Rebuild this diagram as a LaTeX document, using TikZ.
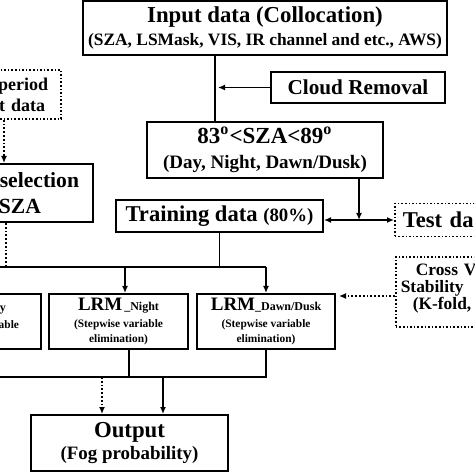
\documentclass[tikz,border=0pt]{standalone}
\usepackage{fontspec}
\setmainfont{Liberation Serif}
\usetikzlibrary{arrows.meta}

\newcommand{\fsize}[2]{\fontsize{#1}{#2}\selectfont\bfseries}
\newcommand{\lrmtext}[2]{{\fsize{9.5}{7.5}LRM}#1{\fsize{6}{7.5}\_#2}\\[1.2pt](Stepwise variable\\elimination)}

\tikzset{
  box/.style={draw, line width=1pt, inner sep=0pt, align=center},
  dotbox/.style={box, line width=0.8pt, densely dotted},
  link/.style={line width=0.9pt},
  arr/.style={link, -{Latex[length=3.5pt,width=3pt]}},
  darr/.style={link, {Latex[length=3.5pt,width=3pt]}-{Latex[length=3.5pt,width=3pt]}},
  dotarr/.style={arr, densely dotted},
}

\begin{document}
\begin{tikzpicture}[x=0.5pt, y=-0.5pt]
  \useasboundingbox (0,0) rectangle (474,474);
  \clip (0,0) rectangle (474,474);

  % boxes
  \node[box, minimum width=182pt, minimum height=27pt, font=\fsize{11.4}{11.5}] (input) at (265,28)
    {Input data (Collocation)\\{\fsize{8.7}{11.5}(SZA, LSMask, VIS, IR channel and etc., AWS)}};
  \node[box, minimum width=87pt, minimum height=15.5pt, font=\fsize{10.6}{12}] (cloud) at (358,87.5) {Cloud Removal};
  \node[box, minimum width=118pt, minimum height=28pt, font=\fsize{11.5}{12.5}] (sza) at (265,150)
    {83\textsuperscript{o}<SZA<89\textsuperscript{o}\\{\fsize{9.5}{12.5}(Day, Night, Dawn/Dusk)}};
  \node[box, minimum width=103.5pt, minimum height=16pt, font=\fsize{11.3}{13}] (train) at (219.5,216)
    {Training data {\fsize{9.4}{13}(80\%)}};
  \node[dotbox, anchor=west, minimum height=16.5pt, text width=74pt, inner xsep=4pt, align=left,
    font=\fsize{11.3}{13}] (test) at (394,220) {Test da};
  \node[dotbox, anchor=west, minimum height=35pt, text width=74pt, inner xsep=2.5pt, align=left,
    font=\fsize{8.7}{8.3}] (cross) at (395,292) {\hspace*{7.5pt}Cross V\\Stability\\\hspace*{6pt}(K-fold,\\[-3pt]\mbox{}};
  \node[dotbox, anchor=east, minimum height=24.5pt, text width=50pt, inner xsep=6.5pt, align=right,
    font=\fsize{9}{10.5}] (period) at (62,94.5) {period\\t data\hspace{1.5pt}\null};
  \node[box, anchor=east, minimum height=29pt, text width=70pt, inner xsep=7pt, align=right,
    font=\fsize{10.8}{13}] (select) at (94,193) {selection\\SZA\hspace{19pt}\null};

  \node[box, anchor=east, minimum height=27.5pt, text width=47.5pt, inner xsep=11pt, align=right,
    font=\fsize{5.7}{7.5}] (left) at (42,321.5)
    {{\fsize{9.5}{7.5}\vphantom{LRM}}{\fsize{6}{7.5}y}\hspace{6.5pt}\null\\[1.2pt]able\\\mbox{}};
  \node[box, minimum width=69.5pt, minimum height=27.5pt, font=\fsize{5.7}{7.5}] (night) at (118.5,321.5)
    {\lrmtext{\,}{Night}};
  \node[box, minimum width=69pt, minimum height=27.5pt, font=\fsize{5.7}{7.5}] (dawn) at (266,321.5)
    {\lrmtext{}{Dawn/Dusk}};
  \node[box, minimum width=98.5pt, minimum height=28pt, font=\fsize{11.4}{11}] (output) at (129.5,443)
    {Output\\{\fsize{9.45}{11}(Fog probability)}};

  % helper points
  \coordinate (stem) at (215,0);
  \coordinate (fork) at (359,220);
  \coordinate (selx) at (4,0);
  \coordinate (dotx) at (6,0);
  \coordinate (bus) at (0,267);
  \coordinate (crossy) at (0,296);
  \coordinate (low) at (0,377);

  % connectors
  \draw[link] (input.south -| stem) -- (sza.north -| stem);
  \draw[arr] (cloud.west) -- ([xshift=1.5pt]cloud.west -| stem);
  \draw[arr] (sza.south -| fork) -- (fork);
  \draw[darr] (train.east |- fork) -- (test.west |- fork);
  \draw[dotarr] (period.south -| selx) -- (select.north -| selx);
  \draw[link, densely dotted] (select.south -| dotx) -- (bus -| dotx);
  \draw[link] (train.south) -- (train.south |- bus);
  \draw[link] (left.north |- bus) -- (dawn.north |- bus);
  \draw[arr] ([xshift=3.25pt]night.north |- bus) -- ([xshift=3.25pt]night.north);
  \draw[arr] (dawn.north |- bus) -- (dawn.north);
  \draw[dotarr] (cross.west |- crossy) -- ([xshift=1.5pt]dawn.east |- crossy);
  \draw[link] ([xshift=5.25pt]night.south) -- ([xshift=5.25pt]night.south |- low);
  \draw[link] (left.south) -- (left.south |- low) -- (dawn.south |- low) -- (dawn.south);
  \draw[arr] ([xshift=16.75pt]output.north |- low) -- ([xshift=16.75pt]output.north);
  \draw[dotarr] ([xshift=-13.75pt]output.north |- low) -- ([xshift=-13.75pt]output.north);
\end{tikzpicture}
\end{document}
